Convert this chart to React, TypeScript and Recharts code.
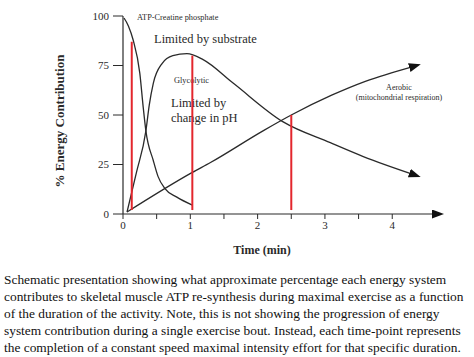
import { LineChart, Line, XAxis, YAxis } from 'recharts'

// % energy contribution vs time (min)
const atpTime = [0.015, 0.08, 0.15, 0.25, 0.3, 0.34, 0.45, 0.52, 0.62, 0.8, 1.03]
const atpPct = [99, 95, 88, 71, 54, 42, 27, 19, 13, 8.5, 4.5]

const glyTime = [0.06, 0.2, 0.34, 0.39, 0.45, 0.58, 0.74, 0.95, 1.19, 1.64, 2.38, 3.08, 3.57, 4.31]
const glyPct = [1, 21, 42, 55, 66, 76, 80, 81, 78, 66, 46.5, 36, 29, 20]

const aerTime = [0.06, 1.03, 1.3, 2.08, 2.5, 3.1, 3.6, 4.31]
const aerPct = [1, 21, 26, 42, 50, 60, 67, 74.5]

// red markers: time-points of the three limits
const limitTime = [0.13, 1.03, 2.5]
const limitTop = [87, 80, 50]
const limitBase = 2

const yTicks = [0, 25, 50, 75, 100]
const xTicks = [0, 0.5, 1, 1.5, 2, 2.5, 3, 3.5, 4]

const caption = [
  'Schematic presentation showing what approximate percentage each energy system',
  'contributes to skeletal muscle ATP re-synthesis during maximal exercise as a function',
  'of the duration of the activity. Note, this is not showing the progression of energy',
  'system contribution during a single exercise bout. Instead, each time-point represents',
  'the completion of a constant speed maximal intensity effort for that specific duration.',
]

const zip = (ts: number[], vs: number[]) => ts.map((t, i) => ({ t, v: vs[i] }))

const atpData = zip(atpTime, atpPct)
const glyData = zip(glyTime, glyPct)
const aerData = zip(aerTime, aerPct)
const limitData = limitTime.map((t, i) => [
  { t, v: limitBase },
  { t, v: limitTop[i] },
])

const serif = '"Liberation Serif", "DejaVu Serif", serif'
const ink = '#2a2a2a'

export default function App() {
  return (
    <div style={{ position: 'absolute', left: 0, top: 0, width: 474, height: 357, background: '#fff', fontFamily: serif }}>
      <svg width={0} height={0} style={{ position: 'absolute' }}>
        <defs>
          <marker id="arrowhead" markerUnits="userSpaceOnUse" markerWidth={12} markerHeight={9} refX={4} refY={4.5} orient="auto">
            <path d="M0,0 L12,4.5 L0,9 z" fill="#111" />
          </marker>
        </defs>
      </svg>

      {/* labels sit under the chart so the red lines cross them */}
      <svg width={474} height={265} style={{ position: 'absolute', left: 0, top: 0 }}>
        <g fontFamily={serif} fill={ink}>
          <text x={137} y={20} fontSize={8.3}>ATP-Creatine phosphate</text>
          <text x={154} y={43} fontSize={12.5}>Limited by substrate</text>
          <text x={174} y={83} fontSize={8.3}>Glycolytic</text>
          <text x={171} y={107} fontSize={12.5}>Limited by</text>
          <text x={171} y={122} fontSize={12.5}>change in pH</text>
          <text x={399} y={90} fontSize={8} textAnchor="middle">Aerobic</text>
          <text x={399} y={100} fontSize={8} textAnchor="middle">(mitochondrial respiration)</text>
          <text x={262} y={254} fontSize={12} fontWeight="bold" textAnchor="middle">Time (min)</text>
          <text x={64} y={121} fontSize={13} fontWeight="bold" textAnchor="middle" transform="rotate(-90 64 121)">% Energy Contribution</text>
        </g>
      </svg>

      <div style={{ position: 'absolute', left: 0, top: 0 }}>
        <LineChart width={474} height={265} margin={{ top: 16, right: 38, left: 0, bottom: 0 }}>
          <XAxis
            type="number"
            dataKey="t"
            domain={[0, 4.65]}
            ticks={xTicks}
            tickFormatter={(v: number) => (Number.isInteger(v) ? String(v) : '')}
            height={51}
            tickSize={5}
            tickMargin={2}
            axisLine={{ stroke: ink, strokeWidth: 1.2, markerEnd: 'url(#arrowhead)' }}
            tickLine={{ stroke: ink }}
            tick={{ fontFamily: serif, fontSize: 11, fill: ink }}
            allowDataOverflow
          />
          <YAxis
            type="number"
            domain={[0, 100]}
            ticks={yTicks}
            width={123}
            tickSize={10}
            tickMargin={4}
            axisLine={{ stroke: ink, strokeWidth: 1.2 }}
            tickLine={{ stroke: ink }}
            tick={{ fontFamily: serif, fontSize: 11, fill: ink }}
          />
          <Line data={atpData} dataKey="v" type="monotone" stroke={ink} strokeWidth={1.3} dot={false} isAnimationActive={false} />
          <Line data={glyData} dataKey="v" type="monotone" stroke={ink} strokeWidth={1.3} dot={false} isAnimationActive={false} markerEnd="url(#arrowhead)" />
          <Line data={aerData} dataKey="v" type="monotone" stroke={ink} strokeWidth={1.3} dot={false} isAnimationActive={false} markerEnd="url(#arrowhead)" />
          {limitData.map((d, i) => (
            <Line key={i} data={d} dataKey="v" type="linear" stroke="#e3262d" strokeWidth={2} dot={false} isAnimationActive={false} />
          ))}
        </LineChart>
      </div>

      <div style={{ position: 'absolute', left: 4, top: 271, fontSize: 13.4, lineHeight: '17px', color: '#111', whiteSpace: 'nowrap' }}>
        {caption.map((l, i) => (
          <div key={i}>{l}</div>
        ))}
      </div>
    </div>
  )
}
